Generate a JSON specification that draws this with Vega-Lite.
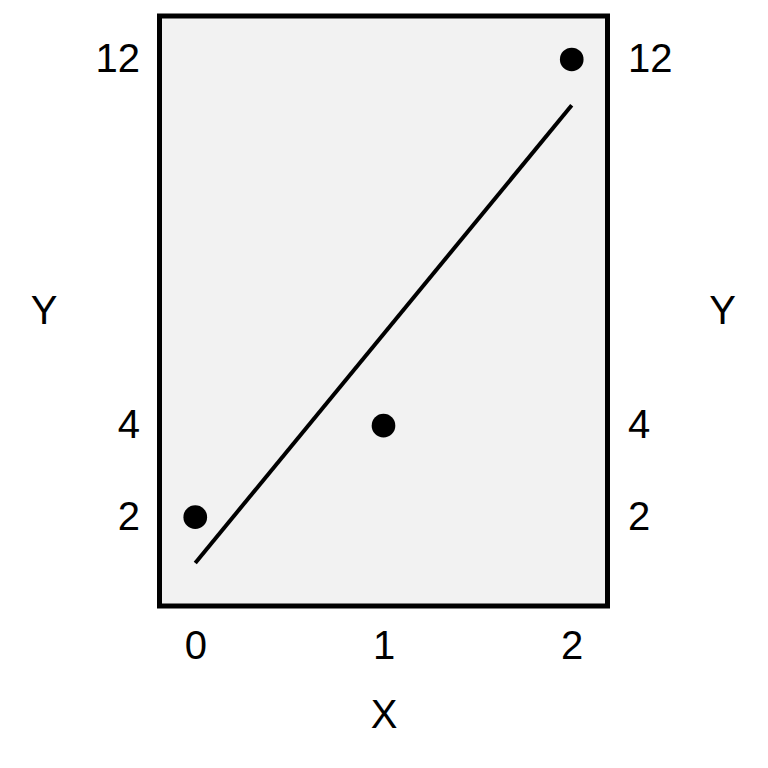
{
  "$schema": "https://vega.github.io/schema/vega-lite/v6.json",
  "autosize": {"type": "none"},
  "padding": {"left": 159.5, "top": 16, "right": 160.5, "bottom": 162},
  "width": 448,
  "height": 590,
  "background": "white",
  "config": {
    "view": {"stroke": "black", "strokeWidth": 5, "fill": "#f2f2f2"},
    "axis": {
      "domain": false,
      "ticks": false,
      "tickSize": 0,
      "grid": false,
      "labelFont": "Liberation Sans",
      "labelFontSize": 40,
      "labelColor": "black",
      "labelPadding": 20,
      "titleFont": "Liberation Sans",
      "titleFontSize": 40,
      "titleFontWeight": "normal",
      "titleColor": "black"
    }
  },
  "datasets": {
    "points": [
      {"X": 0, "Y": 2},
      {"X": 1, "Y": 4},
      {"X": 2, "Y": 12}
    ],
    "fit": [
      {"X": 0, "Y": 1},
      {"X": 2, "Y": 11}
    ]
  },
  "layer": [
    {
      "data": {"name": "fit"},
      "mark": {"type": "line", "color": "black", "strokeWidth": 4},
      "encoding": {
        "x": {
          "field": "X",
          "type": "quantitative",
          "scale": {"domain": [-0.19, 2.19], "nice": false, "zero": false},
          "axis": {"values": [0, 1, 2], "title": "X", "titleAngle": 0, "titleY": 109.5, "titleBaseline": "middle", "labelFlush": false}
        },
        "y": {
          "field": "Y",
          "type": "quantitative",
          "scale": {"domain": [0.06, 12.95], "nice": false, "zero": false},
          "axis": {"orient": "right", "values": [2, 4, 12], "title": "Y", "titleAngle": 0, "titleX": 114.5, "titleY": 295, "titleAlign": "center", "titleBaseline": "middle", "labelFlush": false}
        }
      }
    },
    {
      "data": {"name": "points"},
      "mark": {"type": "circle", "color": "black", "opacity": 1, "size": 560},
      "encoding": {
        "x": {
          "field": "X",
          "type": "quantitative",
          "scale": {"domain": [-0.19, 2.19], "nice": false, "zero": false},
          "axis": {"values": [0, 1, 2], "title": "X", "titleAngle": 0, "titleY": 109.5, "titleBaseline": "middle", "labelFlush": false}
        },
        "y": {
          "field": "Y",
          "type": "quantitative",
          "scale": {"domain": [0.06, 12.95], "nice": false, "zero": false},
          "axis": {"orient": "left", "values": [2, 4, 12], "title": "Y", "titleAngle": 0, "titleX": -116, "titleY": 295, "titleAlign": "center", "titleBaseline": "middle", "labelFlush": false}
        }
      }
    }
  ],
  "resolve": {"scale": {"y": "independent"}, "axis": {"y": "independent"}}
}
